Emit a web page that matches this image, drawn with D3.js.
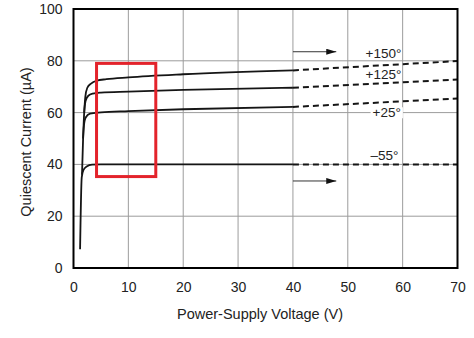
<!DOCTYPE html>
<html>
<head>
<meta charset="utf-8">
<script src="https://cdn.jsdelivr.net/npm/d3@7/dist/d3.min.js"></script>
<style>
  html, body { margin: 0; padding: 0; background: #fff; }
  svg { display: block; }
  text { font-family: "Liberation Sans", Arial, Helvetica, sans-serif; fill: #222; }
</style>
</head>
<body>
<svg id="chart" width="474" height="338"></svg>
<script>
// Quiescent current vs. supply voltage at four temperatures
const xTicks = [0, 10, 20, 30, 40, 50, 60, 70];
const yTicks = [0, 20, 40, 60, 80, 100];
const seriesNames = ["+150°", "+125°", "+25°", "–55°"];

// Measured region (solid), up to 40 V
const solid150 = [[1.95, 60], [2.15, 66], [2.5, 69.5], [3.2, 71.2], [4.2, 72.3], [6, 72.9], [10, 73.6], [20, 74.8], [40, 76.3]];
const solid125 = [[1.75, 50], [1.95, 60], [2.2, 64.5], [2.7, 66.5], [3.5, 67.3], [5, 67.7], [10, 68.1], [20, 68.8], [40, 69.6]];
const solid25  = [[1.55, 36], [1.75, 50], [1.9, 55], [2.2, 58], [3, 59.6], [5, 60.1], [10, 60.6], [20, 61.3], [40, 62.2]];
const solidM55 = [[1.2, 7.2], [1.5, 35], [1.8, 37.8], [2.4, 39.2], [3.4, 39.9], [5, 40], [10, 40], [40, 40]];

// Extrapolated region (dashed), 40 V to 70 V
const dash150 = [[40, 76.3], [70, 79.9]];
const dash125 = [[40, 69.6], [70, 72.8]];
const dash25  = [[40, 62.2], [70, 65.4]];
const dashM55 = [[40, 40], [70, 40]];

// Label anchor (x in V, y in µA at baseline) per series
const labelX = [56.5, 56.5, 57.1, 56.7];
const labelY = [81.2, 72.9, 58.2, 41.7];

// Arrows marking the 40 V boundary
const arrowY = [83.5, 33.6];
const arrowX = [40, 47.9];

// Highlight box [x0, x1, y0, y1]
const focusBox = [4.2, 15.0, 35.3, 79.0];

const svg = d3.select("#chart");
const x = d3.scaleLinear().domain([0, 70]).range([73.5, 457.5]);
const y = d3.scaleLinear().domain([0, 100]).range([268, 9]);

const defs = svg.append("defs");
defs.append("marker")
  .attr("id", "head").attr("viewBox", "0 0 10 6")
  .attr("refX", 10).attr("refY", 3)
  .attr("markerWidth", 14).attr("markerHeight", 6)
  .attr("markerUnits", "userSpaceOnUse")
  .attr("orient", "auto")
  .append("path").attr("d", "M0,0L10,3L0,6Z").attr("fill", "#111");

// Grid
const grid = svg.append("g");
grid.selectAll("line.gx").data(xTicks.slice(1, -1)).join("line")
  .attr("x1", d => x(d)).attr("x2", d => x(d))
  .attr("y1", y(100)).attr("y2", y(0))
  .attr("stroke", "#9c9c9c").attr("stroke-width", 1);
grid.selectAll("line.gy").data(yTicks.slice(1, -1)).join("line")
  .attr("y1", d => y(d)).attr("y2", d => y(d))
  .attr("x1", x(0)).attr("x2", x(70))
  .attr("stroke", "#9c9c9c").attr("stroke-width", 1);

// Axes tick labels
const xAxis = d3.axisBottom(x).tickValues(xTicks).tickSize(0).tickPadding(14);
const gx = svg.append("g").attr("transform", `translate(0,${y(0)})`).call(xAxis);
gx.select(".domain").remove();
gx.selectAll("text").style("font-size", "14px").attr("fill", "#222")
  .style("font-family", '"Liberation Sans", Arial, sans-serif');

const yAxis = d3.axisLeft(y).tickValues(yTicks).tickSize(0).tickPadding(11);
const gy = svg.append("g").attr("transform", `translate(${x(0)},0)`).call(yAxis);
gy.select(".domain").remove();
gy.selectAll("text").style("font-size", "14px").attr("fill", "#222")
  .style("font-family", '"Liberation Sans", Arial, sans-serif');

// Curves
const line = d3.line().x(d => x(d[0])).y(d => y(d[1])).curve(d3.curveMonotoneX);
const solids = [solid150, solid125, solid25, solidM55];
const dashes = [dash150, dash125, dash25, dashM55];

svg.append("g").selectAll("path").data(solids).join("path")
  .attr("d", line).attr("fill", "none")
  .attr("stroke", "#151515").attr("stroke-width", 1.8);

svg.append("g").selectAll("path").data(dashes).join("path")
  .attr("d", d3.line().x(d => x(d[0])).y(d => y(d[1])))
  .attr("fill", "none").attr("stroke", "#151515")
  .attr("stroke-width", 2).attr("stroke-dasharray", "6,4");

// Arrows from the 40 V line
svg.append("g").selectAll("line").data(arrowY).join("line")
  .attr("x1", x(arrowX[0])).attr("x2", x(arrowX[1]))
  .attr("y1", d => y(d)).attr("y2", d => y(d))
  .attr("stroke", "#333").attr("stroke-width", 1)
  .attr("marker-end", "url(#head)");

// Series labels
const labels = svg.append("g");
seriesNames.forEach((name, i) => {
  const t = labels.append("text")
    .attr("x", x(labelX[i])).attr("y", y(labelY[i]))
    .attr("text-anchor", "middle").style("font-size", "13.5px")
    .text(name);
  if (name === "+25°") {
    const b = t.node().getBBox();
    labels.insert("rect", "text")
      .attr("x", b.x - 2).attr("y", b.y + 2)
      .attr("width", b.width + 4).attr("height", b.height - 4)
      .attr("fill", "#fff");
  }
});

// Frame
svg.append("rect")
  .attr("x", x(0)).attr("y", y(100))
  .attr("width", x(70) - x(0)).attr("height", y(0) - y(100))
  .attr("fill", "none").attr("stroke", "#000").attr("stroke-width", 2);

// Highlight box
svg.append("rect")
  .attr("x", x(focusBox[0])).attr("y", y(focusBox[3]))
  .attr("width", x(focusBox[1]) - x(focusBox[0]))
  .attr("height", y(focusBox[2]) - y(focusBox[3]))
  .attr("fill", "none").attr("stroke", "#e3232b").attr("stroke-width", 3);

// Axis titles
svg.append("text")
  .attr("x", 260).attr("y", 319)
  .attr("text-anchor", "middle").style("font-size", "14.5px")
  .text("Power-Supply Voltage (V)");
svg.append("text")
  .attr("transform", "translate(31,142) rotate(-90)")
  .attr("text-anchor", "middle").style("font-size", "14.5px")
  .text("Quiescent Current (µA)");
</script>
</body>
</html>
